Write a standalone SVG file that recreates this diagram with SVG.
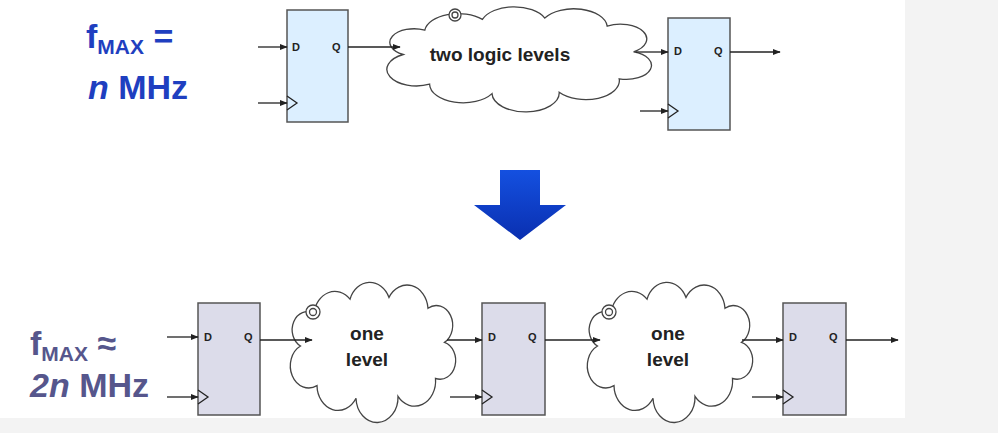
<svg xmlns="http://www.w3.org/2000/svg" width="998" height="433" viewBox="0 0 998 433">
<style>
.ff1{fill:#dcefff;stroke:#555;stroke-width:1.5}
.ff2{fill:#dcdcea;stroke:#555;stroke-width:1.5}
.pin{font-family:"Liberation Sans",Arial,sans-serif;font-weight:bold;font-size:11px;fill:#222}
.w{stroke:#222;stroke-width:1.3;fill:none}
.cl{fill:#fff;stroke:#444;stroke-width:1.3}
.ct{font-family:"Liberation Sans",Arial,sans-serif;font-weight:bold;font-size:19px;fill:#222;text-anchor:middle}
.big{font-family:"Liberation Sans",Arial,sans-serif;font-weight:bold;font-size:34px}
</style>
<defs>
<marker id="a" viewBox="0 0 10 10" refX="9" refY="5" markerWidth="6" markerHeight="6" orient="auto"><path d="M0 1L10 5L0 9z" fill="#222"/></marker>
<path id="cloud" vector-effect="non-scaling-stroke" d="M 3 30 A 10 10 0 0 1 12 12 A 14 14 0 0 1 36 4 A 14 14 0 0 1 62 3 A 14 14 0 0 1 88 9 A 10 10 0 0 1 99 28 A 10 10 0 0 1 93 48 A 14 14 0 0 1 68 58 A 14 14 0 0 1 40 59 A 14 14 0 0 1 14 52 A 10 10 0 0 1 3 30 Z"/>
<linearGradient id="bg" x1="0" y1="0" x2="0" y2="1"><stop offset="0" stop-color="#1450e0"/><stop offset="1" stop-color="#0a2fb0"/></linearGradient>
</defs>
<rect width="998" height="433" fill="#fff"/>
<rect x="905" y="0" width="93" height="433" fill="#f3f3f3"/>
<rect x="0" y="418" width="998" height="15" fill="#f3f3f3"/>

<g id="label-top">
<text class="big" x="86" y="48" fill="#1f3fc0">f<tspan font-size="21" dy="6">MAX</tspan><tspan dy="-6"> =</tspan></text>
<text class="big" x="88" y="99" fill="#1f3fc0"><tspan font-style="italic">n</tspan> MHz</text>
</g>
<g id="label-bottom">
<text class="big" x="30" y="355" fill="#56568c">f<tspan font-size="21" dy="6">MAX</tspan><tspan dy="-6"> ≈</tspan></text>
<text class="big" x="30" y="397" fill="#56568c"><tspan font-style="italic">2n</tspan> MHz</text>
</g>

<g id="arrow-down"><path d="M500 170H540V205H566L520 240L474 205H500Z" fill="url(#bg)"/></g>

<g id="ffA"><rect class="ff1" x="287" y="10" width="61" height="112"/><path class="w" d="M287 96L297 103L287 110"/><text class="pin" x="292" y="51">D</text><text class="pin" x="332" y="51">Q</text></g>
<g id="cloudA"><use href="#cloud" class="cl" transform="translate(396,14) scale(2.4,1.35)"/><circle cx="455" cy="15" r="6" class="cl"/><circle cx="455" cy="15" r="3" class="cl"/><text class="ct" x="500" y="61">two logic levels</text></g>
<g id="ffB"><rect class="ff1" x="668" y="18" width="62" height="112"/><path class="w" d="M668 104L678 111L668 118"/><text class="pin" x="674" y="55">D</text><text class="pin" x="714" y="55">Q</text></g>

<g id="ffC"><rect class="ff2" x="198" y="303" width="62" height="112"/><path class="w" d="M198 390L208 397L198 404"/><text class="pin" x="204" y="341">D</text><text class="pin" x="244" y="341">Q</text></g>
<g id="cloudB"><use href="#cloud" class="cl" transform="translate(296,292) scale(1.5,1.8)"/><circle cx="313" cy="312" r="7" class="cl"/><circle cx="313" cy="312" r="3.5" class="cl"/><text class="ct" x="367" y="340">one</text><text class="ct" x="367" y="366">level</text></g>
<g id="ffD"><rect class="ff2" x="482" y="303" width="63" height="112"/><path class="w" d="M482 390L492 397L482 404"/><text class="pin" x="488" y="341">D</text><text class="pin" x="528" y="341">Q</text></g>
<g id="cloudC"><use href="#cloud" class="cl" transform="translate(593,292) scale(1.5,1.8)"/><circle cx="609" cy="312" r="7" class="cl"/><circle cx="609" cy="312" r="3.5" class="cl"/><text class="ct" x="668" y="340">one</text><text class="ct" x="668" y="366">level</text></g>
<g id="ffE"><rect class="ff2" x="783" y="303" width="63" height="112"/><path class="w" d="M783 390L793 397L783 404"/><text class="pin" x="789" y="341">D</text><text class="pin" x="829" y="341">Q</text></g>

<g id="connectors" class="w" marker-end="url(#a)">
<path d="M258 47H287"/><path d="M258 103H287"/><path d="M348 47H400"/>
<path d="M636 52H668"/><path d="M640 111H668"/><path d="M730 52H780"/>
<path d="M167 337H198"/><path d="M167 397H198"/><path d="M260 340H312"/>
<path d="M447 340H482"/><path d="M450 397H482"/><path d="M545 340H600"/>
<path d="M742 340H783"/><path d="M752 397H783"/><path d="M846 340H898"/>
</g>
</svg>
